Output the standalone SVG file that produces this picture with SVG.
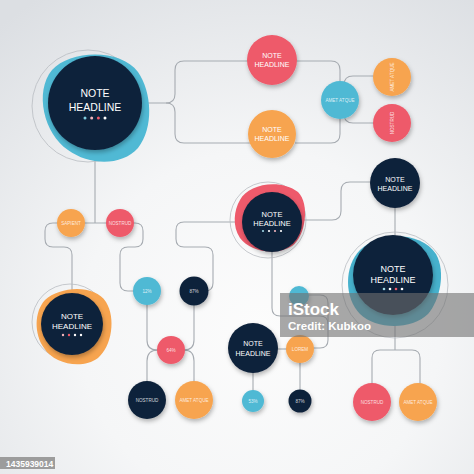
<svg xmlns="http://www.w3.org/2000/svg" width="474" height="474" viewBox="0 0 474 474">
<defs>
<radialGradient id="bg" cx="260" cy="330" r="400" gradientUnits="userSpaceOnUse">
<stop offset="0" stop-color="#fcfcfc"/>
<stop offset="0.45" stop-color="#f5f6f7"/>
<stop offset="1" stop-color="#dcdfe3"/>
</radialGradient>
<filter id="sh" x="-30%" y="-30%" width="160%" height="160%">
<feDropShadow dx="1" dy="2.5" stdDeviation="2" flood-color="#000" flood-opacity="0.28"/>
</filter>
<style>
.ln{fill:none;stroke:#a6abb1;stroke-width:1.1}
.ol{fill:none;stroke:#b9bdc2;stroke-width:0.8}
.nv{fill:#11233b}
.pk{fill:#ee5a6b}
.or{fill:#f7a44f}
.bl{fill:#50b9d4}
.c{filter:url(#sh)}
.t{font-family:"Liberation Sans",Arial,sans-serif;fill:#fff;text-anchor:middle}
.s{font-family:"Liberation Sans",Arial,sans-serif;fill:#fff;fill-opacity:0.8;text-anchor:middle;font-size:4.6px}
.wm{font-family:"Liberation Sans",Arial,sans-serif;fill:#fff;font-weight:bold}
</style>
</defs>
<rect width="474" height="474" fill="url(#bg)"/>

<g id="connectors">
<path class="ln" d="M140,103 H166 Q175,103 175,94 V70 Q175,61 184,61 H250"/>
<path class="ln" d="M166,103 Q175,103 175,112 V134 Q175,143 184,143 H250"/>
<path class="ln" d="M295,61 H331 Q340,61 340,70 V134 Q340,143 331,143 H295"/>
<path class="ln" d="M344,100 V85 Q344,76 353,76 H380"/>
<path class="ln" d="M344,100 V114 Q344,123 353,123 H380"/>
<path class="ln" d="M95,145 V223"/>
<path class="ln" d="M71,223 H120"/>
<path class="ln" d="M60,223 H53 Q45,223 45,231 V239 Q45,247 53,247 H64 Q72,247 72,255 V295"/>
<path class="ln" d="M130,223 H135 Q143,223 143,231 V239 Q143,247 135,247 H128 Q120,247 120,255 V283 Q120,291 128,291 H140"/>
<path class="ln" d="M245,222 H184 Q176,222 176,230 V239 Q176,247 184,247 H205 Q213,247 213,255 V283 Q213,291 205,291 H200"/>
<path class="ln" d="M147,300 V340 Q147,350 157,350"/>
<path class="ln" d="M194,300 V340 Q194,350 184,350"/>
<path class="ln" d="M158,350 Q147,350 147,361 V385"/>
<path class="ln" d="M184,350 Q194,350 194,361 V385"/>
<path class="ln" d="M272,248 V308 Q272,316 280,316 H320 Q328,316 328,324"/>
<path class="ln" d="M299,295 H320 Q328,295 328,303 V340 Q328,348 320,348 H305"/>
<path class="ln" d="M270,349 H295"/>
<path class="ln" d="M253,370 V395"/>
<path class="ln" d="M300,360 V395"/>
<path class="ln" d="M375,182 H350 Q341,182 341,191 V211 Q341,220 332,220 H298"/>
<path class="ln" d="M395,200 V245"/>
<path class="ln" d="M395,305 V350"/>
<path class="ln" d="M372,390 V358 Q372,350 380,350 H412 Q420,350 420,358 V390"/>
</g>

<g id="node-main-top">
<circle class="ol" cx="88" cy="106" r="56"/>
<path class="bl" d="M52,70 C70,50 120,48 138,72 C152,92 154,128 138,148 C122,166 90,166 68,150 C44,134 34,92 52,70 Z"/>
<circle class="nv c" cx="95" cy="103" r="47"/>
<text class="t" x="95" y="97" font-size="10.5">NOTE</text>
<text class="t" x="95" y="111" font-size="10.5">HEADLINE</text>
<circle cx="85" cy="118" r="1.5" fill="#7fcde0"/>
<circle cx="91.7" cy="118" r="1.5" fill="#f3b5bd"/>
<circle cx="98.4" cy="118" r="1.5" fill="#ee5a6b"/>
<circle cx="105" cy="118" r="1.5" fill="#ffffff"/>
</g>

<g id="node-pink-top">
<circle class="pk c" cx="272" cy="60" r="25"/>
<text class="t" x="272" y="58" font-size="7">NOTE</text>
<text class="t" x="272" y="67" font-size="7">HEADLINE</text>
</g>
<g id="node-orange-top">
<circle class="or c" cx="272" cy="134" r="24"/>
<text class="t" x="272" y="132" font-size="7">NOTE</text>
<text class="t" x="272" y="141" font-size="7">HEADLINE</text>
</g>
<g id="node-amet-blue">
<circle class="bl c" cx="340" cy="100" r="19"/>
<text class="s" x="340" y="102">AMET ATQUE</text>
</g>
<g id="node-amet-orange-r">
<circle class="or c" cx="392" cy="77" r="19"/>
<text class="s" transform="translate(394,77) rotate(-90)">AMET ATQUE</text>
</g>
<g id="node-nostrud-red-r">
<circle class="pk c" cx="392" cy="123" r="19"/>
<text class="s" transform="translate(394,123) rotate(-90)">NOSTRUD</text>
</g>

<g id="node-navy-right">
<circle class="nv c" cx="395" cy="183" r="25"/>
<text class="t" x="395" y="182" font-size="7">NOTE</text>
<text class="t" x="395" y="191" font-size="7">HEADLINE</text>
</g>

<g id="node-pink-blob">
<circle class="ol" cx="268" cy="220" r="38"/>
<path class="pk" d="M240,200 C248,184 280,178 298,192 C310,204 306,236 292,246 C276,256 250,252 240,238 C232,226 234,210 240,200 Z"/>
<circle class="nv c" cx="272" cy="222" r="30"/>
<text class="t" x="272" y="217" font-size="7.5">NOTE</text>
<text class="t" x="272" y="226" font-size="7.5">HEADLINE</text>
<circle cx="263" cy="231" r="1.1" fill="#9fd7e6"/>
<circle cx="269" cy="231" r="1.1" fill="#ffffff"/>
<circle cx="275" cy="231" r="1.1" fill="#f3b5bd"/>
<circle cx="281" cy="231" r="1.1" fill="#ffffff"/>
</g>

<g id="node-blue-blob">
<circle class="ol" cx="395" cy="285" r="53"/>
<path fill="#46b1cd" d="M360,250 C378,232 420,230 436,254 C446,272 440,300 428,314 C412,330 376,330 360,314 C344,298 344,266 360,250 Z"/>
<circle class="nv c" cx="393" cy="275" r="40"/>
<text class="t" x="393" y="272" font-size="9">NOTE</text>
<text class="t" x="393" y="283" font-size="9">HEADLINE</text>
<circle cx="384" cy="289" r="1.3" fill="#9fd7e6"/>
<circle cx="390" cy="289" r="1.3" fill="#ffffff"/>
<circle cx="396" cy="289" r="1.3" fill="#ee5a6b"/>
<circle cx="402" cy="289" r="1.3" fill="#ffffff"/>
</g>

<g id="node-sapient">
<circle class="or c" cx="71" cy="223" r="14"/>
<text class="s" x="71" y="225">SAPIENT</text>
</g>
<g id="node-nostrud-left">
<circle class="pk c" cx="120" cy="223" r="14"/>
<text class="s" x="120" y="225">NOSTRUD</text>
</g>

<g id="node-orange-blob">
<circle class="ol" cx="70" cy="322" r="38"/>
<path class="or" d="M45,300 C60,286 95,284 106,302 C116,318 112,346 98,358 C82,370 54,364 44,348 C34,334 34,312 45,300 Z"/>
<circle class="nv c" cx="72" cy="324" r="31"/>
<text class="t" x="72" y="319" font-size="8">NOTE</text>
<text class="t" x="72" y="329" font-size="8">HEADLINE</text>
<circle cx="63" cy="335" r="1.2" fill="#f3b5bd"/>
<circle cx="69" cy="335" r="1.2" fill="#ee5a6b"/>
<circle cx="75" cy="335" r="1.2" fill="#ffffff"/>
<circle cx="81" cy="335" r="1.2" fill="#ffffff"/>
</g>

<g id="node-12">
<circle class="bl c" cx="147" cy="291" r="14"/>
<text class="s" x="147" y="293">12%</text>
</g>
<g id="node-87a">
<circle class="nv c" cx="194" cy="291" r="14.5"/>
<text class="s" x="194" y="293">87%</text>
</g>
<g id="node-64">
<circle class="pk c" cx="171" cy="350" r="14"/>
<text class="s" x="171" y="352">64%</text>
</g>
<g id="node-nostrud-navy">
<circle class="nv c" cx="147" cy="400" r="19"/>
<text class="s" x="147" y="402">NOSTRUD</text>
</g>
<g id="node-amet-orange-b">
<circle class="or c" cx="194" cy="400" r="19"/>
<text class="s" x="194" y="402">AMET ATQUE</text>
</g>

<g id="node-blue-small">
<circle class="bl c" cx="299" cy="296" r="10"/>
</g>
<g id="node-navy-bottom">
<circle class="nv c" cx="253" cy="348" r="25"/>
<text class="t" x="253" y="346" font-size="7">NOTE</text>
<text class="t" x="253" y="356" font-size="7">HEADLINE</text>
</g>
<g id="node-lorem">
<circle class="or c" cx="300" cy="349" r="14"/>
<text class="s" x="300" y="351">LOREM</text>
</g>
<g id="node-53">
<circle class="bl c" cx="253" cy="401" r="11"/>
<text class="s" x="253" y="403">53%</text>
</g>
<g id="node-87b">
<circle class="nv c" cx="300" cy="401" r="11.5"/>
<text class="s" x="300" y="403">87%</text>
</g>
<g id="node-nostrud-pink-b">
<circle class="pk c" cx="372" cy="402" r="19"/>
<text class="s" x="372" y="404">NOSTRUD</text>
</g>
<g id="node-amet-orange-rb">
<circle class="or c" cx="418" cy="402" r="19"/>
<text class="s" x="418" y="404">AMET ATQUE</text>
</g>

<g id="watermark">
<rect x="280" y="293" width="194" height="44" fill="#707070" fill-opacity="0.6"/>
<text class="wm" x="288" y="315" font-size="17">iStock</text>
<text class="wm" x="288" y="330" font-size="11.5">Credit: Kubkoo</text>
<rect x="0" y="457" width="55" height="12" fill="#9c9c9c"/>
<text class="wm" x="6" y="466.5" font-size="8.5" font-weight="normal">1435939014</text>
</g>
</svg>
